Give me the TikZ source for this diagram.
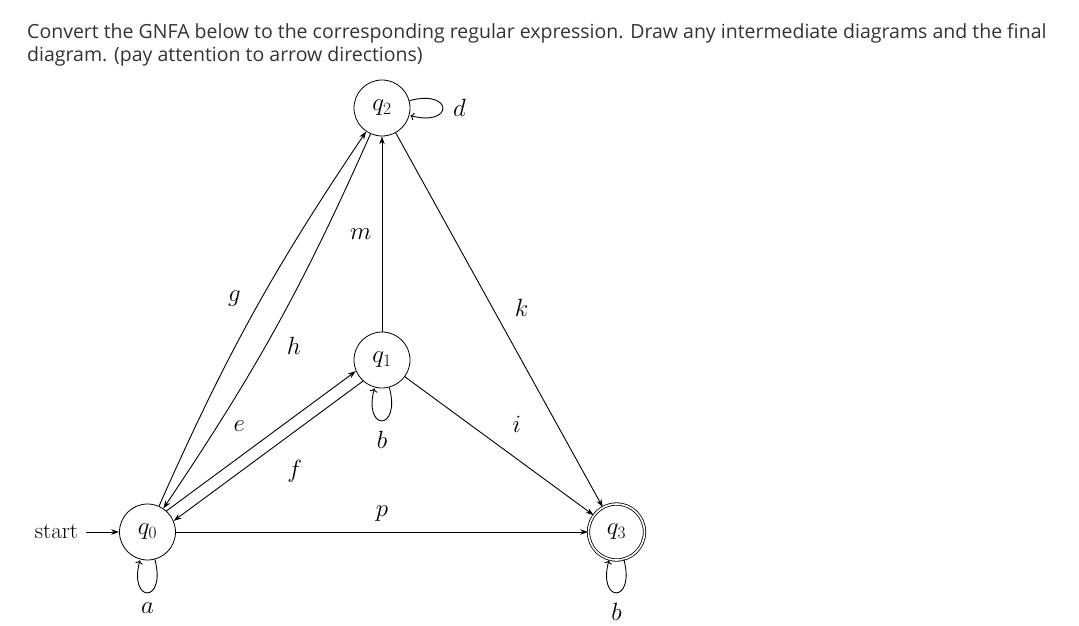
\documentclass[tikz,border=0pt]{standalone}
\usepackage{fontspec}
\newfontfamily\titlefont{Open Sans}
\usetikzlibrary{arrows.meta}
\tikzset{
    qstate/.style={circle, draw, line width=0.8pt, minimum size=56pt, inner sep=0pt,
    	font=\fontsize{23}{27}\selectfont},
    qaccept/.style={qstate, double, double distance=1.6pt}
}
\tikzset{
    every edge/.append style={line width=0.9pt, black,
    	-{Stealth[length=8pt,width=5.5pt]}}
}
\tikzset{
    lbl/.style={auto, inner sep=10pt, font=\fontsize{23}{27}\selectfont}
}

\begin{document}
\begin{tikzpicture}[x=1pt,y=-1pt]
	\useasboundingbox (0,0) rectangle (1079,626);
	\node (title) at (27,62) [anchor=base west, align=left, inner sep=0pt,
		text=black!80, font=\titlefont\fontsize{19.5}{23}\selectfont]
		{Convert the GNFA below to the corresponding regular expression. Draw any intermediate diagrams and the final\\
		diagram. (pay attention to arrow directions)};
	
	\node[qstate] (q0) at (147.5,532) {$q_0$};
	\node[qstate] (q1) at (382,360) {$q_1$};
	\node[qstate] (q2) at (382,108) {$q_2$};
	\node[qaccept] (q3) at (616.5,532) {$q_3$};
	\node (start) at (56.5,532) [inner sep=8pt, font=\fontsize{23}{27}\selectfont] {start};
	
	\draw (start) edge (q0);
	\draw (q0) edge[bend left=5] node[lbl, pos=0.49] {$g$} (q2);
	\draw (q2) edge[bend left=5] node[lbl, pos=0.5] {$h$} (q0);
	\draw (q0.48.7) edge node[lbl, pos=0.48, inner sep=12pt] {$e$} (q1.203.9);
	\draw (q1.228.7) edge node[lbl, pos=0.47, inner sep=13pt] {$f$} (q0.23.9);
	\draw (q1) edge node[lbl] {$m$} (q2);
	\draw (q2) edge node[lbl, pos=0.52, inner sep=11pt] {$k$} (q3);
	\draw (q1) edge node[lbl, pos=0.5, inner sep=13pt] {$i$} (q3);
	\draw (q0) edge node[lbl] {$p$} (q3);
	\draw (q0) edge[loop below] node[lbl] {$a$} ();
	\draw (q1) edge[loop below] node[lbl] {$b$} ();
	\draw (q2) edge[loop right] node[lbl] {$d$} ();
	\draw (q3) edge[loop below] node[lbl] {$b$} ();
\end{tikzpicture}
\end{document}
